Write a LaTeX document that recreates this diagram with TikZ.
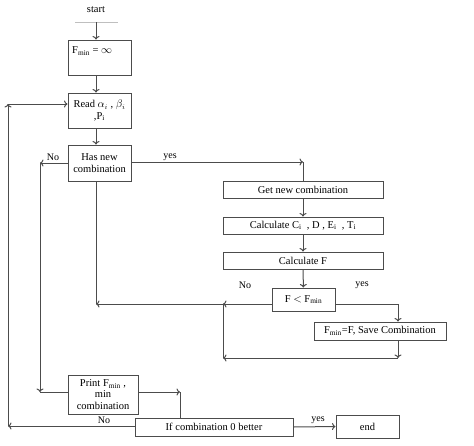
\documentclass[tikz,border=0pt]{standalone}
\usepackage{fontspec}
\setmainfont{Liberation Serif}
\usetikzlibrary{arrows.meta}
\begin{document}
\begin{tikzpicture}[x=1pt,y=-1pt,
  box/.style={draw=black!70, line width=1pt, inner sep=1pt, align=center, font=\fontsize{10.5}{11.5}\selectfont},
  conn/.style={draw=black!70, line width=1pt},
  arr/.style={conn, -{To[length=3.5pt,width=7pt]}},
  lbl/.style={font=\fontsize{10}{11}\selectfont, inner sep=0pt}]
\useasboundingbox (0,0) rectangle (474,445);
% column reference coordinates
\coordinate (colA) at (96,0);
\coordinate (s1) at (75,22);
\coordinate (s2) at (118,22);
\coordinate (sm) at (96,22);
\node[font=\fontsize{10.5}{11.5}\selectfont] (start) at (96,10) {start};
\draw[gray!50, line width=0.6pt] (s1) -- (s2);

\node[box, minimum width=63pt, minimum height=35pt] (fmin) at (99.5,57.5) {};
\node[font=\fontsize{10.5}{11.5}\selectfont, anchor=west, inner sep=0pt] (fmintxt) at (72,51) {F\textsubscript{min} = $\infty$};
\node[box, minimum width=63pt, minimum height=35pt] (read) at (99.5,110.5) {Read $\alpha_i$ , $\beta_i$\\ ,P\textsubscript{i}};
\node[box, minimum width=63pt, minimum height=36pt] (hasnew) at (99.5,163) {Has new\\combination};

\node[box, minimum width=160pt, minimum height=17pt] (getnew) at (303,189.5) {Get new combination};
\node[box, minimum width=160pt, minimum height=17pt] (calc) at (303,225.5) {Calculate C\textsubscript{i}\ \ , D , E\textsubscript{i}\ \ , T\textsubscript{i}};
\node[box, minimum width=160pt, minimum height=17pt] (calcf) at (303,260.5) {Calculate F};
\node[box, minimum width=63pt, minimum height=23pt] (fless) at (303.5,299.5) {F $<$ F\textsubscript{min}};
\node[box, minimum width=132pt, minimum height=18pt] (save) at (380,331) {F\textsubscript{min}=F, Save Combination};
\node[box, minimum width=70pt, minimum height=39pt] (print) at (103,394.5) {Print F\textsubscript{min} ,\\min\\combination};
\node[box, minimum width=158pt, minimum height=18pt] (ifc) at (214,427) {If combination 0 better};
\node[box, minimum width=63pt, minimum height=23pt] (endn) at (367.5,426.5) {end};

% coordinates for routing
\coordinate (yesc) at (303,162);
\coordinate (nohas) at (40,163);
\coordinate (nodown) at (40,392);
\coordinate (loopA) at (96,304);
\coordinate (loopB) at (223,304);
\coordinate (loopC) at (223,358);
\coordinate (saveR) at (398,304);
\coordinate (saveB) at (398,358);
\coordinate (prR) at (180,392);
\coordinate (outB) at (8,426);
\coordinate (outT) at (8,104);

% main column
\draw[arr] (sm) -- (fmin.north -| colA);
\draw[arr] (fmin.south -| colA) -- (read.north -| colA);
\draw[arr] (read.south -| colA) -- (hasnew.north -| colA);

% yes branch
\draw[arr] (hasnew.east |- yesc) -- (yesc);
\draw[conn] (yesc) -- (getnew.north);
\node[lbl] (yes1) at (170,157) {yes};
\draw[arr] (getnew) -- (calc);
\draw[arr] (calc) -- (calcf);
\draw[arr] (calcf) -- (fless);

% F < Fmin
\node[lbl] (no2) at (245,285) {No};
\node[lbl] (yes2) at (362,285) {yes};
\draw[arr] (fless.west |- loopB) -- (loopB);
\draw[arr] (loopB) -- (loopA);
\draw[conn] (hasnew.south -| colA) -- (loopA);
\draw[conn] (fless.east |- saveR) -- (saveR);
\draw[arr] (saveR) -- (save.north -| saveR);
\draw[arr] (save.south -| saveB) -- (saveB);
\draw[arr] (saveB) -- (loopC);
\draw[conn] (loopB) -- (loopC);

% No branch of has new
\node[lbl] (no1) at (53,157) {No};
\draw[arr] (hasnew.west |- nohas) -- (nohas);
\draw[arr] (nohas) -- (nodown);
\draw[conn] (nodown) -- (print.west |- nodown);

% print -> if
\draw[arr] (print.east |- prR) -- (prR);
\draw[conn] (prR) -- (ifc.north -| prR);

% if -> end / loop
\node[lbl] (yes3) at (318,420) {yes};
\draw[arr] (ifc.east) -- (endn.west);
\node[lbl] (no3) at (104,420) {No};
\draw[arr] (ifc.west |- outB) -- (outB);
\draw[arr] (outB) -- (outT);
\draw[arr] (outT) -- (read.west |- outT);
\end{tikzpicture}
\end{document}
